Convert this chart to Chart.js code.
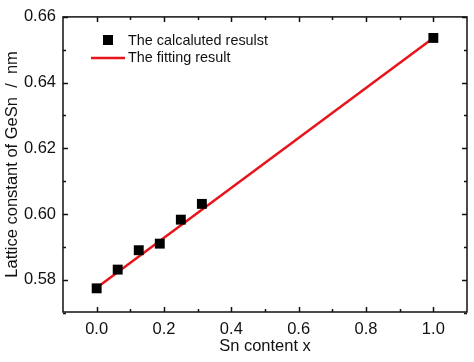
<!DOCTYPE html>
<html>
<head>
<meta charset="utf-8">
<script src="https://cdn.jsdelivr.net/npm/chart.js@4/dist/chart.umd.min.js"></script>
<style>
  html, body { margin: 0; padding: 0; background: #fff; }
  #wrap { width: 474px; height: 362px; }
</style>
</head>
<body>
<div id="wrap"><canvas id="chart" width="474" height="362"></canvas></div>
<script>
// calculated points
const snContent = [0, 0.0625, 0.125, 0.1875, 0.25, 0.3125, 1.0];
const latticeConst = [0.5774, 0.5831, 0.5890, 0.5910, 0.5983, 0.6031, 0.6536];
// fitted line endpoints
const fitX = [0, 1.0];
const fitY = [0.5776, 0.6536];

const xTicks = [0.0, 0.2, 0.4, 0.6, 0.8, 1.0];
const xMinor = [0.1, 0.3, 0.5, 0.7, 0.9];
const yTicks = [0.58, 0.60, 0.62, 0.64, 0.66];
const yMinor = [0.57, 0.59, 0.61, 0.63, 0.65];

const FONT = 'Liberation Sans, Arial, sans-serif';

//frame + inward ticks on all four sides
const framePlugin = {
  id: 'frame',
  afterDraw(chart) {
    const { ctx, chartArea: a, scales: { x, y } } = chart;
    ctx.save();
    ctx.strokeStyle = '#111';
    ctx.lineWidth = 1.5;
    ctx.strokeRect(a.left, a.top, a.right - a.left, a.bottom - a.top);
    const tick = (vals, len) => {
      vals.forEach(v => {
        const px = Math.round(x.getPixelForValue(v)) + 0.5;
        ctx.beginPath();
        ctx.moveTo(px, a.bottom); ctx.lineTo(px, a.bottom - len);
        ctx.moveTo(px, a.top); ctx.lineTo(px, a.top + len);
        ctx.stroke();
      });
    };
    const tickY = (vals, len) => {
      vals.forEach(v => {
        const py = Math.round(y.getPixelForValue(v)) + 0.5;
        ctx.beginPath();
        ctx.moveTo(a.left, py); ctx.lineTo(a.left + len, py);
        ctx.moveTo(a.right, py); ctx.lineTo(a.right - len, py);
        ctx.stroke();
      });
    };
    tick(xTicks, 5); tick(xMinor, 3);
    tickY(yTicks, 5); tickY(yMinor, 3);
    ctx.restore();
  }
};

//legend drawn inside the plot
const legendPlugin = {
  id: 'insideLegend',
  afterDraw(chart) {
    const { ctx } = chart;
    ctx.save();
    ctx.fillStyle = '#000';
    ctx.fillRect(103, 35, 10, 10);
    ctx.strokeStyle = '#e8141b';
    ctx.lineWidth = 2.5;
    ctx.beginPath();
    ctx.moveTo(91, 58); ctx.lineTo(125, 58);
    ctx.stroke();
    ctx.font = '14.4px ' + FONT;
    ctx.textBaseline = 'middle';
    ctx.fillStyle = '#111';
    ctx.fillText('The calcaluted resulst', 128, 41);
    ctx.fillText('The fitting result', 128, 58);
    ctx.restore();
  }
};

new Chart(document.getElementById('chart'), {
  type: 'scatter',
  data: {
    datasets: [
      {
        label: 'The fitting result',
        data: fitX.map((v, i) => ({ x: v, y: fitY[i] })),
        showLine: true,
        borderColor: '#e8141b',
        borderWidth: 2.5,
        pointRadius: 0,
        order: 2
      },
      {
        label: 'The calcaluted resulst',
        data: snContent.map((v, i) => ({ x: v, y: latticeConst[i] })),
        pointStyle: 'rect',
        pointRadius: 7,
        backgroundColor: '#000',
        borderColor: '#000',
        borderWidth: 0,
        order: 1
      }
    ]
  },
  options: {
    responsive: false,
    animation: false,
    layout: { padding: { top: 10, right: 4, left: 0, bottom: 0 } },
    plugins: {
      legend: { display: false },
      tooltip: { enabled: false }
    },
    scales: {
      x: {
        type: 'linear',
        min: -0.1,
        max: 1.1,
        afterBuildTicks: s => { s.ticks = xTicks.map(v => ({ value: v })); },
        afterFit: s => { s.height = 50; },
        grid: { display: false, drawTicks: false },
        border: { display: false },
        ticks: {
          padding: 8,
          color: '#111',
          font: { family: FONT, size: 16.5 },
          callback: v => Number(v).toFixed(1)
        },
        title: {
          display: true,
          text: 'Sn content x',
          color: '#111',
          font: { family: FONT, size: 16.5 },
          padding: { top: 0, bottom: 6 }
        }
      },
      y: {
        type: 'linear',
        min: 0.5702,
        max: 0.66,
        afterBuildTicks: s => { s.ticks = yTicks.map(v => ({ value: v })); },
        afterFit: s => { s.width = 63; },
        grid: { display: false, drawTicks: false },
        border: { display: false },
        ticks: {
          padding: 7,
          color: '#111',
          font: { family: FONT, size: 16.5 },
          callback: v => Number(v).toFixed(2)
        },
        title: {
          display: true,
          text: 'Lattice constant of GeSn  /  nm',
          color: '#111',
          font: { family: FONT, size: 16.5 },
          padding: { top: 3, bottom: 0 }
        }
      }
    }
  },
  plugins: [framePlugin, legendPlugin]
});
</script>
</body>
</html>
